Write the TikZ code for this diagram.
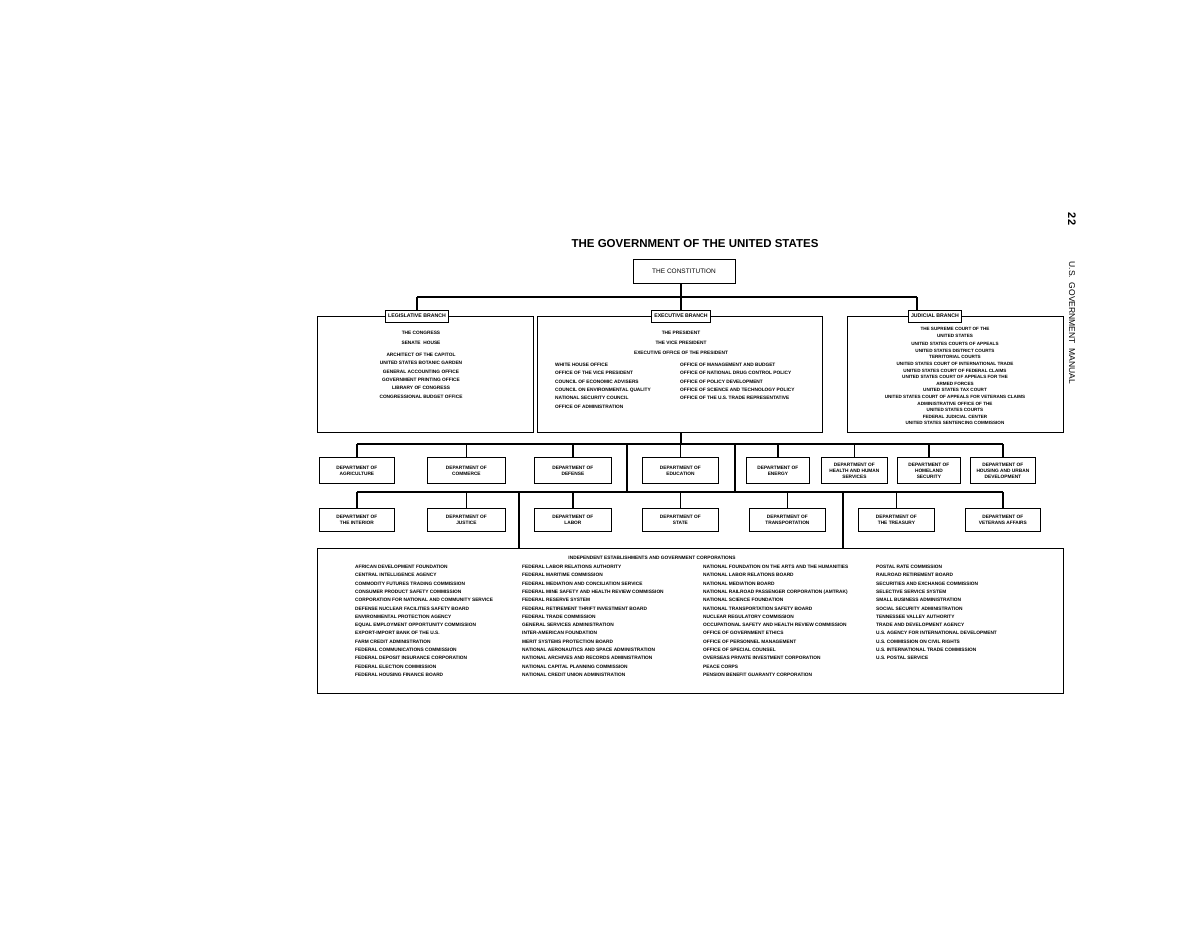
\documentclass[tikz,border=0pt]{standalone}
\usepackage{fontspec}
\setmainfont{Liberation Sans}
\begin{document}
\begin{tikzpicture}[x=1pt,y=-1pt,
  line/.style={line width=1.6pt},
  branchbox/.style={draw,line width=0.8pt,anchor=north west,inner sep=0pt},
  tagbox/.style={draw,line width=0.8pt,fill=white,font=\fontsize{5.2}{6}\selectfont\bfseries,inner sep=2.5pt,minimum height=12pt},
  deptbox/.style={draw,line width=0.8pt,align=center,font=\fontsize{4.8}{6}\selectfont\bfseries,inner sep=1pt,anchor=north west},
  list/.style={font=\fontsize{4.8}{8.3}\selectfont\bfseries,align=left,anchor=north west,inner sep=0pt}]

\useasboundingbox (0,0) rectangle (1200,927);

\node (title) at (695,244) {\fontsize{11.5}{13}\selectfont\bfseries THE GOVERNMENT OF THE UNITED STATES};
\node[draw,line width=0.8pt,minimum width=102pt,minimum height=24pt,font=\fontsize{6.5}{7}\selectfont] (const) at (684,271) {THE CONSTITUTION};

\node[font=\fontsize{11}{12}\selectfont\bfseries,rotate=-90] (page) at (1072,219) {22};
\node[font=\fontsize{8.5}{9}\selectfont,rotate=-90,anchor=west] (manual) at (1072,258) {U.S.\ \ GOVERNMENT\ \ MANUAL};

% branches
\node[branchbox,minimum width=216pt,minimum height=116pt] (leg) at (317,316) {};
\node[branchbox,minimum width=285pt,minimum height=116pt] (exe) at (537,316) {};
\node[branchbox,minimum width=216pt,minimum height=116pt] (jud) at (847,316) {};
\node[tagbox] (legtag) at (417,316) {LEGISLATIVE BRANCH};
\node[tagbox] (exetag) at (681,316) {EXECUTIVE BRANCH};
\node[tagbox] (judtag) at (935,316) {JUDICIAL BRANCH};

\coordinate (topL) at (417,297);
\coordinate (topM) at (681,297);
\coordinate (topR) at (917,297);
\draw[line] (topM |- const.south) -- (topM);
\draw[line] (topL) -- (topR);
\draw[line] (topL) -- (legtag.north);
\draw[line] (topM) -- (exetag.north);
\draw[line] (topR) -- (judtag.north -| topR);

\node[list,align=center,anchor=north] (legtxt) at (421,331) {THE CONGRESS\\[1.5pt] SENATE\ \ HOUSE\\[4pt]
  ARCHITECT OF THE CAPITOL\\ UNITED STATES BOTANIC GARDEN\\ GENERAL ACCOUNTING OFFICE\\
  GOVERNMENT PRINTING OFFICE\\ LIBRARY OF CONGRESS\\ CONGRESSIONAL BUDGET OFFICE};
\node[list,align=center,anchor=north] (exetxt) at (681,331) {THE PRESIDENT\\[1.5pt] THE VICE PRESIDENT\\[1.5pt] EXECUTIVE OFFICE OF THE PRESIDENT};
\node[list] (exeleft) at (555,363) {WHITE HOUSE OFFICE\\ OFFICE OF THE VICE PRESIDENT\\ COUNCIL OF ECONOMIC ADVISERS\\
  COUNCIL ON ENVIRONMENTAL QUALITY\\ NATIONAL SECURITY COUNCIL\\ OFFICE OF ADMINISTRATION};
\node[list] (exeright) at (680,363) {OFFICE OF MANAGEMENT AND BUDGET\\ OFFICE OF NATIONAL DRUG CONTROL POLICY\\
  OFFICE OF POLICY DEVELOPMENT\\ OFFICE OF SCIENCE AND TECHNOLOGY POLICY\\ OFFICE OF THE U.S. TRADE REPRESENTATIVE};
\node[list,align=center,anchor=north,font=\fontsize{4.6}{6.6}\selectfont\bfseries] (judtxt) at (955,327) {THE SUPREME COURT OF THE\\ UNITED STATES\\[2pt]
  UNITED STATES COURTS OF APPEALS\\ UNITED STATES DISTRICT COURTS\\ TERRITORIAL COURTS\\
  UNITED STATES COURT OF INTERNATIONAL TRADE\\ UNITED STATES COURT OF FEDERAL CLAIMS\\
  UNITED STATES COURT OF APPEALS FOR THE\\ ARMED FORCES\\ UNITED STATES TAX COURT\\
  UNITED STATES COURT OF APPEALS FOR VETERANS CLAIMS\\ ADMINISTRATIVE OFFICE OF THE\\
  UNITED STATES COURTS\\ FEDERAL JUDICIAL CENTER\\ UNITED STATES SENTENCING COMMISSION};

% departments
\foreach \name/\x/\w/\txt in {agr/319/75/{DEPARTMENT OF\\AGRICULTURE}, com/427/78/{DEPARTMENT OF\\COMMERCE},
  def/534/77/{DEPARTMENT OF\\DEFENSE}, edu/642/76/{DEPARTMENT OF\\EDUCATION}, ene/746/63/{DEPARTMENT OF\\ENERGY},
  hhs/821/66/{DEPARTMENT OF\\HEALTH AND HUMAN\\SERVICES}, hom/897/63/{DEPARTMENT OF\\HOMELAND\\SECURITY},
  hud/970/65/{DEPARTMENT OF\\HOUSING AND URBAN\\DEVELOPMENT}}
  \node[deptbox,minimum width=\w pt,minimum height=26pt] (\name) at (\x,457) {\txt};
\foreach \name/\x/\w/\txt in {int/319/75/{DEPARTMENT OF\\THE INTERIOR}, jus/427/78/{DEPARTMENT OF\\JUSTICE},
  lab/534/77/{DEPARTMENT OF\\LABOR}, sta/642/76/{DEPARTMENT OF\\STATE}, tra/749/76/{DEPARTMENT OF\\TRANSPORTATION},
  tre/858/76/{DEPARTMENT OF\\THE TREASURY}, vet/965/75/{DEPARTMENT OF\\VETERANS AFFAIRS}}
  \node[deptbox,minimum width=\w pt,minimum height=23pt] (\name) at (\x,508) {\txt};

\coordinate (barA) at (357,444);
\coordinate (barB) at (1003,444);
\coordinate (barC) at (357,492);
\coordinate (barD) at (1003,492);
\draw[line] (exe.south -| exetag) -- (681,444);
\draw[line] (barA) -- (barB);
\draw[line] (barC) -- (barD);
\foreach \d in {agr,com,def,edu,ene,hhs,hom,hud}
  \draw[line] (\d.north |- barA) -- (\d.north);
\foreach \d in {int,jus,lab,sta,tra,tre,vet}
  \draw[line] (\d.north |- barC) -- (\d.north);
\draw[line] (627,444) -- (627,492);
\draw[line] (735,444) -- (735,492);

% independent establishments
\node[branchbox,minimum width=746pt,minimum height=145pt] (ind) at (317,548) {};
\coordinate (indL) at (519,492);
\coordinate (indR) at (843,492);
\draw[line] (indL) -- (indL |- ind.north);
\draw[line] (indR) -- (indR |- ind.north);
\node[font=\fontsize{4.8}{5}\selectfont\bfseries] (indtxt) at (652,558) {INDEPENDENT ESTABLISHMENTS AND GOVERNMENT CORPORATIONS};
\node[list] (indA) at (355,565) {AFRICAN DEVELOPMENT FOUNDATION\\ CENTRAL INTELLIGENCE AGENCY\\ COMMODITY FUTURES TRADING COMMISSION\\
  CONSUMER PRODUCT SAFETY COMMISSION\\ CORPORATION FOR NATIONAL AND COMMUNITY SERVICE\\ DEFENSE NUCLEAR FACILITIES SAFETY BOARD\\
  ENVIRONMENTAL PROTECTION AGENCY\\ EQUAL EMPLOYMENT OPPORTUNITY COMMISSION\\ EXPORT-IMPORT BANK OF THE U.S.\\
  FARM CREDIT ADMINISTRATION\\ FEDERAL COMMUNICATIONS COMMISSION\\ FEDERAL DEPOSIT INSURANCE CORPORATION\\
  FEDERAL ELECTION COMMISSION\\ FEDERAL HOUSING FINANCE BOARD};
\node[list] (indB) at (522,565) {FEDERAL LABOR RELATIONS AUTHORITY\\ FEDERAL MARITIME COMMISSION\\ FEDERAL MEDIATION AND CONCILIATION SERVICE\\
  FEDERAL MINE SAFETY AND HEALTH REVIEW COMMISSION\\ FEDERAL RESERVE SYSTEM\\ FEDERAL RETIREMENT THRIFT INVESTMENT BOARD\\
  FEDERAL TRADE COMMISSION\\ GENERAL SERVICES ADMINISTRATION\\ INTER-AMERICAN FOUNDATION\\ MERIT SYSTEMS PROTECTION BOARD\\
  NATIONAL AERONAUTICS AND SPACE ADMINISTRATION\\ NATIONAL ARCHIVES AND RECORDS ADMINISTRATION\\
  NATIONAL CAPITAL PLANNING COMMISSION\\ NATIONAL CREDIT UNION ADMINISTRATION};
\node[list] (indC) at (703,565) {NATIONAL FOUNDATION ON THE ARTS AND THE HUMANITIES\\ NATIONAL LABOR RELATIONS BOARD\\ NATIONAL MEDIATION BOARD\\
  NATIONAL RAILROAD PASSENGER CORPORATION (AMTRAK)\\ NATIONAL SCIENCE FOUNDATION\\ NATIONAL TRANSPORTATION SAFETY BOARD\\
  NUCLEAR REGULATORY COMMISSION\\ OCCUPATIONAL SAFETY AND HEALTH REVIEW COMMISSION\\ OFFICE OF GOVERNMENT ETHICS\\
  OFFICE OF PERSONNEL MANAGEMENT\\ OFFICE OF SPECIAL COUNSEL\\ OVERSEAS PRIVATE INVESTMENT CORPORATION\\
  PEACE CORPS\\ PENSION BENEFIT GUARANTY CORPORATION};
\node[list] (indD) at (876,565) {POSTAL RATE COMMISSION\\ RAILROAD RETIREMENT BOARD\\ SECURITIES AND EXCHANGE COMMISSION\\
  SELECTIVE SERVICE SYSTEM\\ SMALL BUSINESS ADMINISTRATION\\ SOCIAL SECURITY ADMINISTRATION\\ TENNESSEE VALLEY AUTHORITY\\
  TRADE AND DEVELOPMENT AGENCY\\ U.S. AGENCY FOR INTERNATIONAL DEVELOPMENT\\ U.S. COMMISSION ON CIVIL RIGHTS\\
  U.S. INTERNATIONAL TRADE COMMISSION\\ U.S. POSTAL SERVICE};
\end{tikzpicture}
\end{document}
